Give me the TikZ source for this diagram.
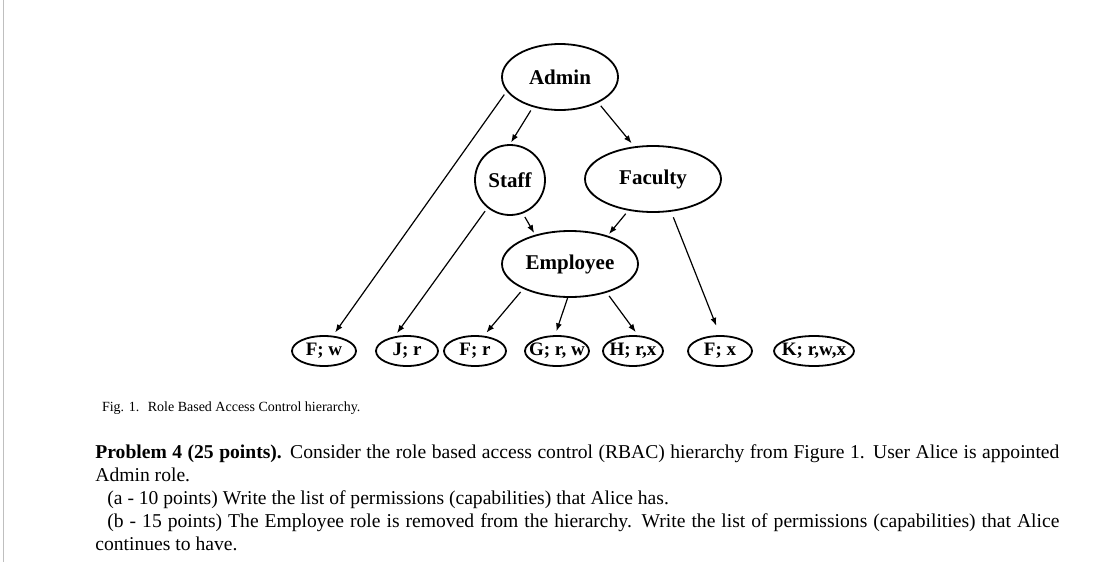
\documentclass[tikz,border=0pt]{standalone}
\usepackage{fontspec}
\setmainfont{Liberation Serif}
\usetikzlibrary{arrows.meta,shapes.geometric}

\begin{document}
\begin{tikzpicture}[x=0.5pt,y=-0.5pt,
  role/.style={ellipse, draw, line width=0.9pt, inner sep=0pt, font=\fontsize{10.5}{12}\selectfont\bfseries},
  perm/.style={ellipse, draw, line width=0.9pt, inner xsep=-3pt, inner ysep=0pt, minimum height=15pt, font=\fontsize{9.5}{11}\selectfont\bfseries},
  arr/.style={-{Latex[length=4pt, width=3pt]}, line width=0.6pt}]

\useasboundingbox (0,0) rectangle (1108,562);
\draw[black!25, line width=0.5pt] (3,0) -- (3,562);

% roles
\node[role, minimum width=58pt, minimum height=33pt] (admin) at (560,77) {Admin};
\node[role, circle, minimum size=35pt] (staff) at (510,180) {Staff};
\node[role, minimum width=68pt, minimum height=33pt] (faculty) at (653,179) {Faculty};
\node[role, minimum width=68pt, minimum height=33pt] (employee) at (570,264) {Employee};

% permissions
\node[perm, minimum width=32pt] (fw) at (324,351) {F; w};
\node[perm, minimum width=31pt] (jr) at (407,351) {J; r};
\node[perm, minimum width=31pt] (fr) at (475,351) {F; r};
\node[perm, minimum width=32pt] (grw) at (557,351) {G; r, w};
\node[perm, minimum width=30pt] (hrx) at (633,351) {H; r,x};
\node[perm, minimum width=32pt] (fx) at (720,351) {F; x};
\node[perm, minimum width=40pt] (krwx) at (814,351) {K; r,w,x};

% hierarchy
\draw[arr, shorten <=2pt, shorten >=1pt] (admin.228) -- (staff.north);
\draw[arr, shorten <=2pt, shorten >=2pt] (admin.326) -- (faculty.120);
\draw[arr, shorten <=2pt, shorten >=1pt] (staff.291) -- (employee.140);
\draw[arr, shorten <=2pt, shorten >=1pt] (faculty.232) -- (employee.37);
\draw[arr, shorten <=2pt, shorten >=2pt] (admin.195) -- (fw.60);
\draw[arr, shorten <=2pt, shorten >=2pt] (staff.231) -- (jr.130);
\draw[arr, shorten <=3pt, shorten >=5pt] (faculty.299) -- (fx.north);
\draw[arr, shorten <=2pt, shorten >=2pt] (employee.208) -- (fr.60);
\draw[arr, shorten <=0pt, shorten >=2pt] (employee.266) -- (grw.97);
\draw[arr, shorten <=2pt, shorten >=2pt] (employee.322) -- (hrx.72);

% caption and text
\node[anchor=west, font=\fontsize{7}{8}\selectfont] (caption) at (95,408)
  {Fig. 1.\hspace{0.6em}Role Based Access Control hierarchy.};
\node[anchor=north west, inner sep=0pt, text width=482pt, align=justify,
  font=\fontsize{9.8}{11.5}\selectfont] (problem) at (95,444)
  {\textbf{Problem 4 (25 points).} Consider the role based access control (RBAC) hierarchy from Figure 1. User Alice is appointed Admin role.\par
  \hspace*{6pt}(a - 10 points) Write the list of permissions (capabilities) that Alice has.\par
  \hspace*{6pt}(b - 15 points) The Employee role is removed from the hierarchy. Write the list of permissions (capabilities) that Alice continues to have.};
\end{tikzpicture}
\end{document}
